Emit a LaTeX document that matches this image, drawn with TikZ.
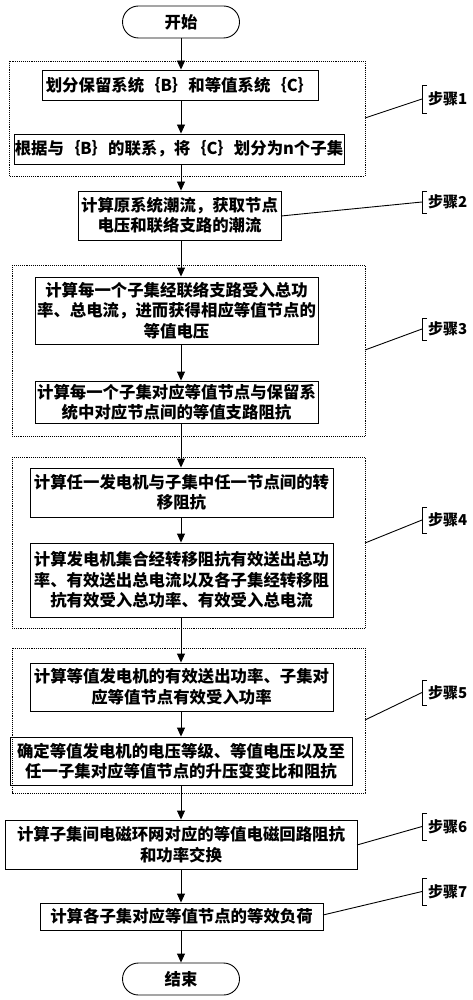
\documentclass[tikz,border=0pt]{standalone}
\usepackage{fontspec}
\setmainfont{Noto Sans CJK SC}
\usetikzlibrary{arrows.meta}
\begin{document}
\begin{tikzpicture}[x=1pt,y=-1pt,
  box/.style={draw,line width=0.9pt,inner sep=0pt,align=center,font=\fontsize{16.4}{20.5}\selectfont\bfseries},
  term/.style={box,rounded corners=16pt,minimum width=117pt,minimum height=32pt},
  grp/.style={draw,densely dotted,line width=0.9pt},
  arr/.style={-{Triangle[length=9pt,width=8pt]},line width=0.9pt},
  lead/.style={line width=0.9pt},
  lbl/.style={font=\fontsize{15}{16}\selectfont\bfseries,anchor=west,inner sep=0pt}]
\useasboundingbox (0,0) rectangle (473,1000);
% groups
\draw[grp] (9,61) rectangle (365,176);
\draw[grp] (12,265) rectangle (365,436);
\draw[grp] (12,457) rectangle (365,628);
\draw[grp] (12,648) rectangle (365,793);
% nodes
\node[term] (start) at (181,22) {开始};
\node[box,minimum width=276pt,minimum height=30pt] (a1) at (180,85) {划分保留系统｛B｝和等值系统｛C｝};
\node[box,minimum width=330pt,minimum height=30pt] (a2) at (179,149) {根据与｛B｝的联系，将｛C｝划分为n个子集};
\node[box,minimum width=203pt,minimum height=49pt] (s2) at (179.5,215.5) {计算原系统潮流，获取节点\\电压和联络支路的潮流};
\node[box,minimum width=283pt,minimum height=67pt] (b1) at (176.5,310.5) {计算每一个子集经联络支路受入总功\\率、总电流，进而获得相应等值节点的\\等值电压};
\node[box,minimum width=283pt,minimum height=42pt] (b2) at (176.5,402) {计算每一个子集对应等值节点与保留系\\统中对应节点间的等值支路阻抗};
\node[box,minimum width=303pt,minimum height=49pt] (c1) at (181.5,492.5) {计算任一发电机与子集中任一节点间的转\\移阻抗};
\node[box,minimum width=303pt,minimum height=74pt] (c2) at (181.5,580) {计算发电机集合经转移阻抗有效送出总功\\率、有效送出总电流以及各子集经转移阻\\抗有效受入总功率、有效受入总电流};
\node[box,minimum width=303pt,minimum height=48pt] (d1) at (181.5,687) {计算等值发电机的有效送出功率、子集对\\应等值节点有效受入功率};
\node[box,minimum width=342pt,minimum height=48pt] (d2) at (181,761) {确定等值发电机的电压等级、等值电压以及至\\任一子集对应等值节点的升压变变比和阻抗};
\node[box,minimum width=352pt,minimum height=49pt] (e) at (181,844.5) {计算子集间电磁环网对应的等值电磁回路阻抗\\和功率交换};
\node[box,minimum width=283pt,minimum height=27pt] (f) at (181.5,916.5) {计算各子集对应等值节点的等效负荷};
\node[term] (end) at (181,979) {结束};
% arrows
\foreach \u/\v in {start/a1,a1/a2,a2/s2,s2/b1,b1/b2,b2/c1,c1/c2,c2/d1,d1/d2,d2/e,e/f,f/end}
  \draw[arr] (181,0 |- \u.south) -- (181,0 |- \v.north);
% step labels
\foreach \n/\top/\bot/\fx/\fy in {1/85/113/365/118, 2/191/213/281/216, 3/318/340/365/350, 4/507/533/365/543, 5/680/705/365/720, 6/813/840/357/845, 7/878/905/323/915}{
  \coordinate (k\n) at (422,{(\top+\bot)/2});
  \coordinate (f\n) at (\fx,\fy);
  \draw[lead] (427,\top) -- (422,\top) -- (422,\bot) -- (427,\bot);
  \draw[lead] (f\n) -- (k\n);
  \node[lbl] (t\n) at (428,{(\top+\bot)/2}) {步骤\n};
}
\end{tikzpicture}
\end{document}
